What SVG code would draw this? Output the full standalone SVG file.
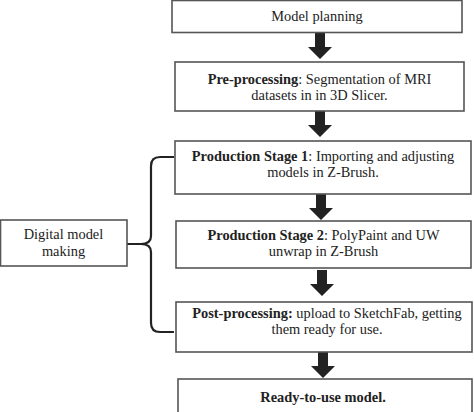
<svg xmlns="http://www.w3.org/2000/svg" width="474" height="412" viewBox="0 0 474 412">
<defs>
<style>
.box{fill:#fff;stroke:#555;stroke-width:1.6}
.arrow{fill:#222}
.brace{fill:none;stroke:#222;stroke-width:2.2}
</style>
<path id="arr" d="M-5,0 H5 V14 H12 L0,26 L-12,14 H-5 Z"/>
</defs>
<rect width="474" height="412" fill="#fff"/>
<g id="connectors">
<use href="#arr" class="arrow" x="320" y="33"/>
<use href="#arr" class="arrow" x="320" y="111"/>
<use href="#arr" class="arrow" x="321" y="194"/>
<use href="#arr" class="arrow" x="322" y="270"/>
<use href="#arr" class="arrow" x="323" y="352"/>
<path class="brace" d="M174,157 H160 Q151,157 151,166 V236 Q151,244 141,244 H127 M141,244 Q151,244 151,252 V323 Q151,332 160,332 H174"/>
</g>
<g font-family="Liberation Serif, Times New Roman, serif" font-size="14.4" fill="#222" text-anchor="middle">
<g id="model-planning">
<rect class="box" x="172" y="0.5" width="290" height="32"/>
<text x="317" y="21">Model planning</text>
</g>
<g id="pre-processing">
<rect class="box" x="175" y="62" width="289" height="49"/>
<text x="319.5" y="84"><tspan font-weight="bold">Pre-processing</tspan>: Segmentation of MRI</text>
<text x="319.5" y="100">datasets in in 3D Slicer.</text>
</g>
<g id="production-1">
<rect class="box" x="175" y="141" width="296" height="53"/>
<text x="323" y="161"><tspan font-weight="bold">Production Stage 1</tspan>: Importing and adjusting</text>
<text x="323" y="177">models in Z-Brush.</text>
</g>
<g id="production-2">
<rect class="box" x="176" y="221" width="295" height="47"/>
<text x="323.5" y="240"><tspan font-weight="bold">Production Stage 2</tspan>: PolyPaint and UW</text>
<text x="323.5" y="256">unwrap in Z-Brush</text>
</g>
<g id="post-processing">
<rect class="box" x="176" y="302" width="296" height="50"/>
<text x="327" y="318"><tspan font-weight="bold">Post-processing:</tspan> upload to SketchFab, getting</text>
<text x="327" y="334">them ready for use.</text>
</g>
<g id="ready">
<rect class="box" x="178" y="379" width="294" height="40"/>
<text x="323" y="402" font-weight="bold">Ready-to-use model.</text>
</g>
<g id="digital-model-making">
<rect class="box" x="0.5" y="220" width="126.5" height="46"/>
<text x="63.5" y="239">Digital model</text>
<text x="63.5" y="256">making</text>
</g>
</g>
</svg>
